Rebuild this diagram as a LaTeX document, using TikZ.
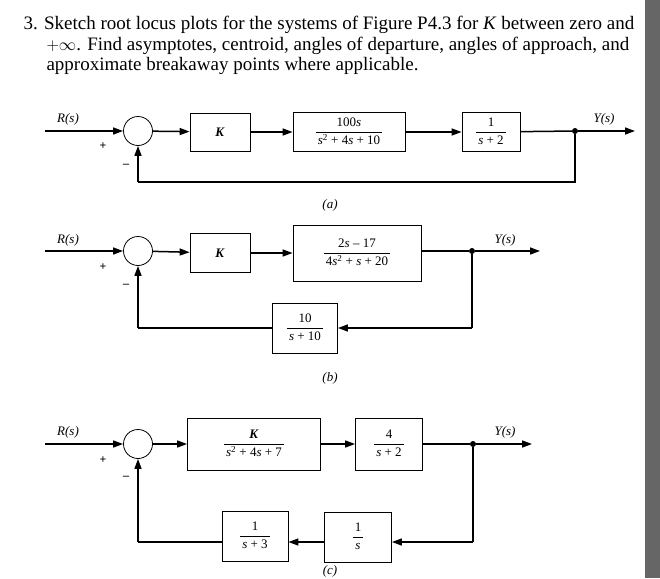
\documentclass[tikz,border=0pt]{standalone}
\usepackage{fontspec}
\setmainfont{Liberation Serif}
\usetikzlibrary{arrows.meta}
\newcommand{\myfr}[2]{\renewcommand{\arraystretch}{1.2}\begin{tabular}{@{\,}c@{\,}}#1\\[1pt]\hline #2\end{tabular}}
\begin{document}
\begin{tikzpicture}[x=1pt,y=-1pt,
  blk/.style={draw,line width=0.8pt,inner sep=0pt},
  sig/.style={line width=1.5pt,-{Triangle[length=10pt,width=7pt]}},
  ln/.style={line width=1.5pt},
  sumc/.style={draw,circle,line width=0.8pt,minimum size=29pt,inner sep=0pt},
  lab/.style={font=\fontsize{13}{14}\selectfont\itshape},
  tf/.style={font=\fontsize{13}{14}\selectfont},
  sgn/.style={font=\fontsize{12}{12}\selectfont\bfseries},
  dot/.style={circle,fill,inner sep=0pt,minimum size=6pt}]
\useasboundingbox (0,0) rectangle (660,578);
\fill[white] (0,0) rectangle (660,578);
% header
\node[anchor=west,font=\fontsize{19}{20}\selectfont] (h1) at (20,25) {3. Sketch root locus plots for the systems of Figure P4.3 for \textit{K} between zero and};
\node[anchor=west,font=\fontsize{19}{20}\selectfont] (h2) at (43,46) {$+\infty$. Find asymptotes, centroid, angles of departure, angles of approach, and};
\node[anchor=west,font=\fontsize{19}{20}\selectfont] (h3) at (43,66) {approximate breakaway points where applicable.};
\fill[black!60] (645,0) rectangle (660,578);
% (a)
\coordinate (ain) at (45,131);
\node[sumc] (as) at (138,131) {};
\node[blk,minimum width=60pt,minimum height=38pt,tf] (ak) at (220,132) {\textbf{\textit{K}}};
\node[blk,minimum width=112pt,minimum height=39pt,tf] (ag) at (349,132) {\myfr{100\textit{s}}{\textit{s}\textsuperscript{2} + 4\textit{s} + 10}};
\node[blk,minimum width=58pt,minimum height=39pt,tf] (ah) at (491,132) {\myfr{1}{\textit{s} + 2}};
\node[dot] (ad) at (575,131) {};
\coordinate (aout) at (635,131);
\coordinate (afb) at (575,182);
\coordinate (afb2) at (138,182);
\draw[sig] (ain) -- (as);
\draw[sig] (as) -- (ak);
\draw[sig] (ak) -- (ag);
\draw[sig] (ag) -- (ah);
\draw[ln] (ah) -- (ad);
\draw[sig] (ad) -- (aout);
\draw[ln] (ad) -- (afb) -- (afb2);
\draw[sig] (afb2) -- (as);
\node[lab] (ar) at (68,119) {R(s)};
\node[lab] (ay) at (604,119) {Y(s)};
\node[sgn] (ap) at (103,146) {+};
\node[sgn] (am) at (126,166) {--};
\node[lab] (acap) at (330,205) {(a)};
% (b)
\coordinate (bin) at (45,251);
\node[sumc] (bs) at (138,251) {};
\node[blk,minimum width=60pt,minimum height=39pt,tf] (bk) at (220,253) {\textbf{\textit{K}}};
\node[blk,minimum width=128pt,minimum height=56pt,tf] (bg) at (357,253) {\myfr{2\textit{s} -- 17}{4\textit{s}\textsuperscript{2} + \textit{s} + 20}};
\node[dot] (bd) at (472,251) {};
\coordinate (bout) at (540,251);
\coordinate (bf1) at (472,328);
\coordinate (bf2) at (138,328);
\node[blk,minimum width=65pt,minimum height=50pt,tf] (bh) at (305,328) {\myfr{10}{\textit{s} + 10}};
\draw[sig] (bin) -- (bs);
\draw[sig] (bs) -- (bk);
\draw[sig] (bk) -- (bk -| bg.west);
\draw[ln] (bg.east |- bd) -- (bd);
\draw[sig] (bd) -- (bout);
\draw[ln] (bd) -- (bf1);
\draw[sig] (bf1) -- (bh);
\draw[ln] (bh) -- (bf2);
\draw[sig] (bf2) -- (bs);
\node[lab] (br) at (68,240) {R(s)};
\node[lab] (by) at (505,240) {Y(s)};
\node[sgn] (bp) at (103,267) {+};
\node[sgn] (bm) at (126,286) {--};
\node[lab] (bcap) at (330,378) {(b)};
% (c)
\coordinate (cin) at (45,444);
\node[sumc] (cs) at (138,444) {};
\node[blk,minimum width=133pt,minimum height=52pt,tf] (ck) at (254,444) {\myfr{\textbf{\textit{K}}}{\textit{s}\textsuperscript{2} + 4\textit{s} + 7}};
\node[blk,minimum width=67pt,minimum height=52pt,tf] (cg) at (389,444) {\myfr{4}{\textit{s} + 2}};
\node[dot] (cd) at (473,444) {};
\coordinate (cout) at (532,444);
\coordinate (cf1) at (473,542);
\coordinate (cf2) at (138,542);
\node[blk,minimum width=67pt,minimum height=50pt,tf] (ci) at (358,537) {\myfr{1}{\textit{s}}};
\node[blk,minimum width=66pt,minimum height=50pt,tf] (ch) at (255,536) {\myfr{1}{\textit{s} + 3}};
\draw[sig] (cin) -- (cs);
\draw[sig] (cs) -- (ck);
\draw[sig] (ck) -- (cg);
\draw[ln] (cg) -- (cd);
\draw[sig] (cd) -- (cout);
\draw[ln] (cd) -- (cf1);
\draw[sig] (cf1) -- (cf1 -| ci.east);
\draw[sig] (ci.west |- cf1) -- (cf1 -| ch.east);
\draw[ln] (ch.west |- cf1) -- (cf2);
\draw[sig] (cf2) -- (cs);
\node[lab] (cr) at (68,432) {R(s)};
\node[lab] (cy) at (505,432) {Y(s)};
\node[sgn] (cp) at (103,460) {+};
\node[sgn] (cm) at (126,478) {--};
\node[lab] (ccap) at (330,571) {(c)};
\end{tikzpicture}
\end{document}
